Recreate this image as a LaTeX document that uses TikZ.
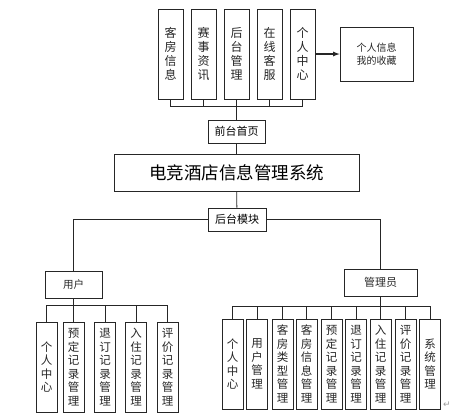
\documentclass[tikz,border=0pt]{standalone}
\usepackage{fontspec}
\usepackage{tikz}
\newfontfamily\cjk{Noto Sans CJK SC}
\newfontfamily\djv{DejaVu Sans}

\begin{document}
\begin{tikzpicture}[x=1pt,y=-1pt,
    box/.style={draw=black!85, line width=0.8pt, inner sep=0pt, align=center, text=black!85},
    vbox/.style={box, minimum width=25pt, minimum height=90pt, font=\cjk\fontsize{12}{14}\selectfont},
    sbox/.style={box, minimum width=21pt, minimum height=90pt, font=\cjk\fontsize{11.5}{13.5}\selectfont},
    link/.style={draw=black!85, line width=0.8pt}]
    \useasboundingbox (0,0) rectangle (474,416);
    \node[vbox] (kf) at (170.5,54) {客\\房\\信\\息};
    \node[vbox] (ss) at (203.5,54) {赛\\事\\资\\讯};
    \node[vbox] (hg) at (236.5,54) {后\\台\\管\\理};
    \node[vbox] (zx) at (269.5,54) {在\\线\\客\\服};
    \node[vbox] (gr) at (302.5,54) {个\\人\\中\\心};
    \node[box, minimum width=73pt, minimum height=54pt, font=\cjk\fontsize{10}{13}\selectfont] (sc) at (376.5,54) {个人信息\\我的收藏};
    \draw[link, line width=1.2pt, -latex] (gr) -- (sc);
    \node[box, minimum width=57pt, minimum height=23pt, font=\cjk\fontsize{11}{13}\selectfont, text=black] (qt) at (236.5,131.5) {前台首页};
    \coordinate (tbar) at (236.5,106);
    \draw[link] (kf.south) |- (tbar) -- (qt.north);
    \draw[link] (ss.south) |- (tbar);
    \draw[link] (hg.south) -- (tbar);
    \draw[link] (zx.south) |- (tbar);
    \draw[link] (gr.south) |- (tbar);
    \node[box, minimum width=245pt, minimum height=37pt, font=\cjk\fontsize{17.5}{20}\selectfont, text=black] (xt) at (236.5,172.5) {电竞酒店信息管理系统};
    \node[box, minimum width=58pt, minimum height=23pt, font=\cjk\fontsize{11}{13}\selectfont, text=black] (ht) at (237,219.5) {后台模块};
    \draw[link] (qt) -- (xt);
    \draw[link] (xt) -- (ht);
    \node[box, minimum width=57pt, minimum height=27pt, font=\cjk\fontsize{10.5}{12}\selectfont] (yh) at (73.5,284.5) {用户};
    \node[box, minimum width=73pt, minimum height=27pt, font=\cjk\fontsize{11}{12}\selectfont] (gly) at (380.5,282.5) {管理员};
    \draw[link] (ht.west) -| (yh.north);
    \draw[link] (ht.east) -| (gly.north);
    \node[sbox] (u1) at (46.5,367) {个\\人\\中\\心};
    \node[sbox] (u2) at (73.5,367) {预\\定\\记\\录\\管\\理};
    \node[sbox] (u3) at (105,367) {退\\订\\记\\录\\管\\理};
    \node[sbox] (u4) at (136,367) {入\\住\\记\\录\\管\\理};
    \node[sbox] (u5) at (167.5,367) {评\\价\\记\\录\\管\\理};
    \coordinate (ubar) at (73.5,305);
    \draw[link] (u1.north) |- (ubar) -- (yh.south);
    \draw[link] (u2.north) -- (ubar);
    \draw[link] (u3.north) |- (ubar);
    \draw[link] (u4.north) |- (ubar);
    \draw[link] (u5.north) |- (ubar);
    \node[sbox] (a1) at (232.5,364) {个\\人\\中\\心};
    \node[sbox] (a2) at (257,364) {用\\户\\管\\理};
    \node[sbox] (a3) at (282.5,364) {客\\房\\类\\型\\管\\理};
    \node[sbox] (a4) at (306.5,364) {客\\房\\信\\息\\管\\理};
    \node[sbox] (a5) at (331.5,364) {预\\定\\记\\录\\管\\理};
    \node[sbox] (a6) at (356,364) {退\\订\\记\\录\\管\\理};
    \node[sbox] (a7) at (380.5,364) {入\\住\\记\\录\\管\\理};
    \node[sbox] (a8) at (405.5,364) {评\\价\\记\\录\\管\\理};
    \node[sbox] (a9) at (430,364) {系\\统\\管\\理};
    \coordinate (abar) at (380.5,306);
    \draw[link] (a1.north) |- (abar) -- (gly.south);
    \draw[link] (a2.north) |- (abar);
    \draw[link] (a3.north) |- (abar);
    \draw[link] (a4.north) |- (abar);
    \draw[link] (a5.north) |- (abar);
    \draw[link] (a6.north) |- (abar);
    \draw[link] (a7.north) -- (abar);
    \draw[link] (a8.north) |- (abar);
    \draw[link] (a9.north) |- (abar);
    \node[font=\djv\fontsize{9}{9}\selectfont, text=black!40] (ret) at (447,405) {↵};
\end{tikzpicture}
\end{document}
